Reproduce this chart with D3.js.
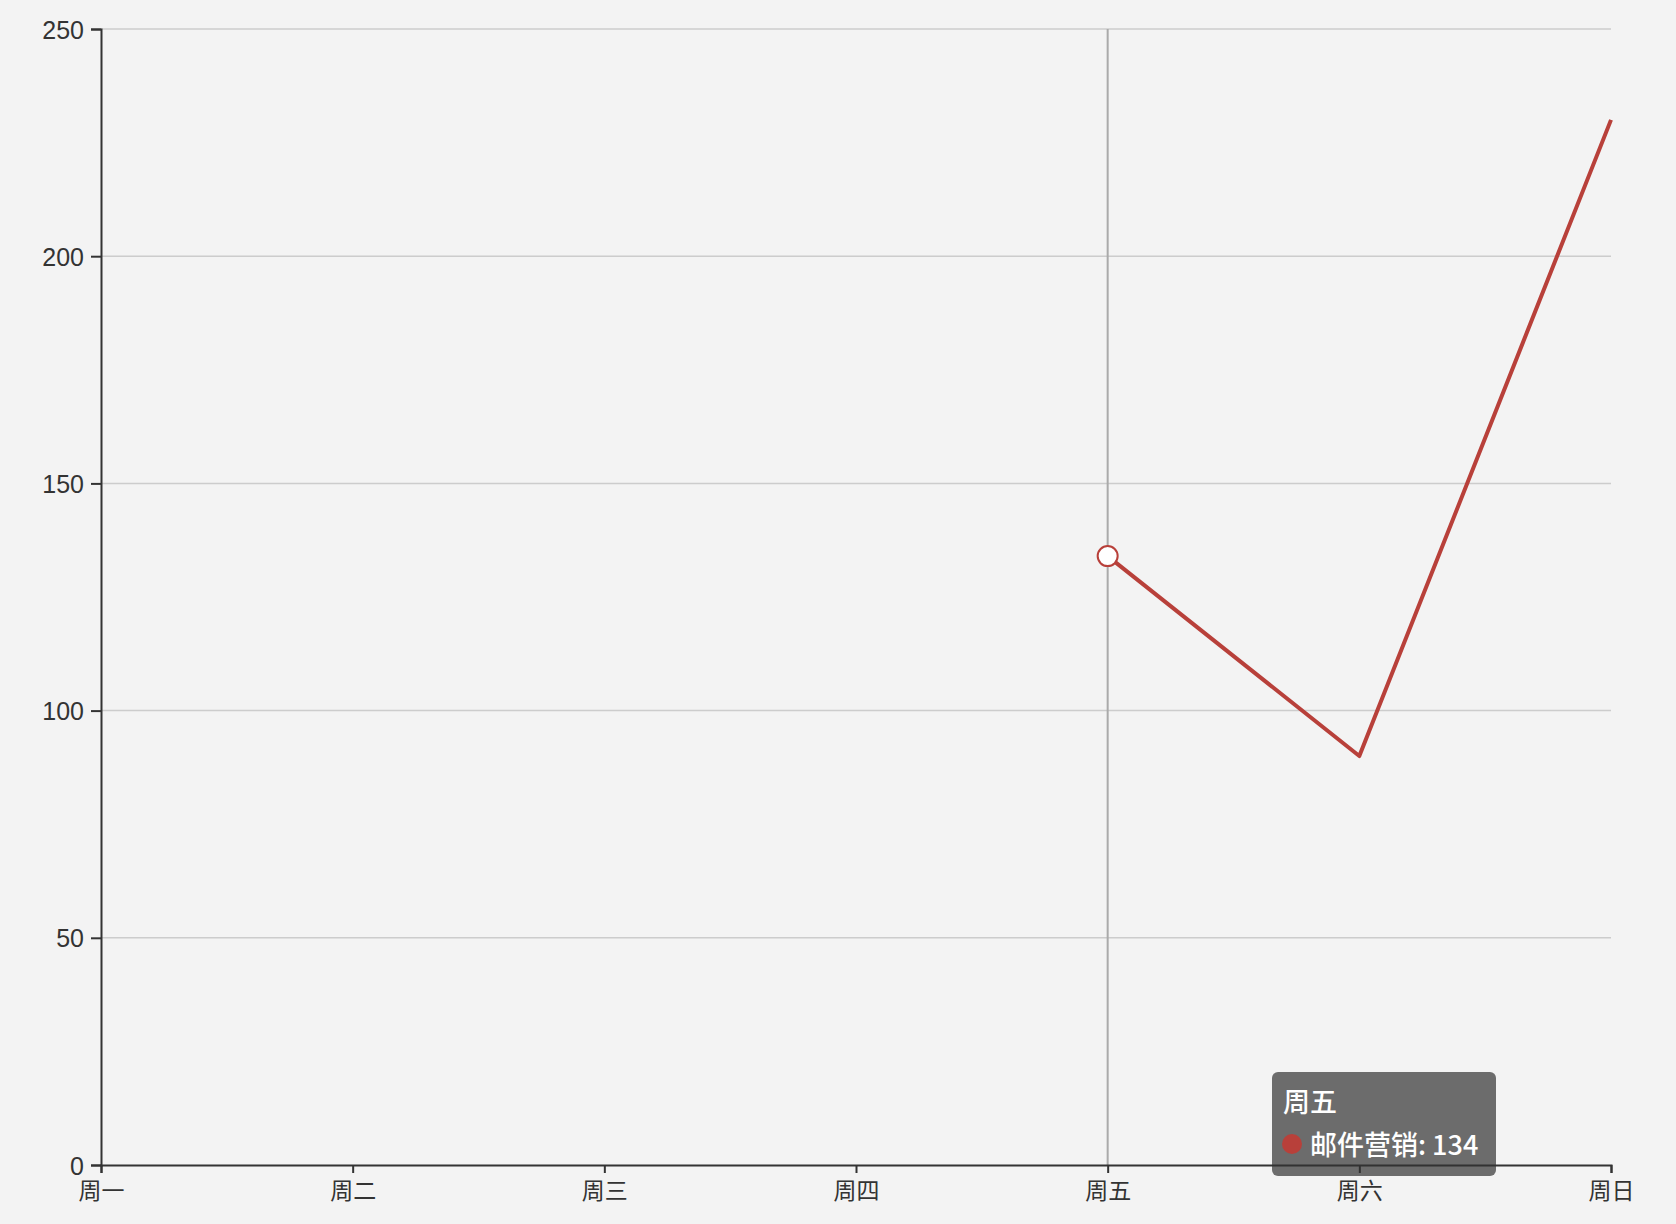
<!DOCTYPE html>
<html>
<head>
<meta charset="utf-8">
<script src="https://cdn.jsdelivr.net/npm/d3@7/dist/d3.min.js"></script>
<style>
  html, body { margin: 0; padding: 0; background: #f3f3f3; }
  svg { display: block; }
  text { font-family: "Liberation Sans", "Noto Sans CJK SC", sans-serif; }
  .tip text { font-family: "Noto Sans CJK SC", sans-serif; }
</style>
</head>
<body>
<div id="chart"></div>
<script>
// data (Mon-Thu not drawn)
var days = ['周一', '周二', '周三', '周四', '周五', '周六', '周日'];
var emailValues = [null, null, null, null, 134, 90, 230];
var yTicks = [0, 50, 100, 150, 200, 250];
var seriesName = '邮件营销';
var activeIndex = 4;

var width = 1676,
    height = 1224,
    margin = { top: 29, right: 65, bottom: 59, left: 101 },
    lineColor = '#b8403a';

var svg = d3.select('#chart')
  .append('svg')
    .attr('width', width)
    .attr('height', height);

var x = d3.scalePoint()
  .domain(days)
  .range([margin.left, width - margin.right]);

var y = d3.scaleLinear()
  .domain([0, 250])
  .range([height - margin.bottom, margin.top]);

// horizontal grid
svg.append('g')
  .selectAll('line')
  .data(yTicks.filter(function (d) { return d > 0; }))
  .enter().append('line')
    .attr('x1', margin.left)
    .attr('x2', width - margin.right)
    .attr('y1', function (d) { return y(d); })
    .attr('y2', function (d) { return y(d); })
    .style('stroke', '#cccccc')
    .style('stroke-width', 1.5);

// crosshair on the hovered category
svg.append('line')
  .attr('x1', x(days[activeIndex]))
  .attr('x2', x(days[activeIndex]))
  .attr('y1', y(250))
  .attr('y2', y(0))
  .style('stroke', '#aaaaaa')
  .style('stroke-width', 2);

var yAxis = svg.append('g')
  .attr('transform', 'translate(' + margin.left + ',0)')
  .call(d3.axisLeft(y).tickValues(yTicks).tickSize(10).tickPadding(7));

var xAxis = svg.append('g')
  .attr('transform', 'translate(0,' + y(0) + ')')
  .call(d3.axisBottom(x).tickSize(8).tickPadding(10));

[yAxis, xAxis].forEach(function (ax) {
  ax.select('.domain').style('stroke', '#333').style('stroke-width', 2);
  ax.selectAll('.tick line').style('stroke', '#333').style('stroke-width', 2);
  ax.selectAll('.tick text')
    .style('fill', '#333')
    .style('font-size', '23px');
});
yAxis.selectAll('.tick text')
  .attr('dy', '0.36em')
  .style('font-size', '25px');

var line = d3.line()
  .defined(function (d) { return d != null; })
  .x(function (d, i) { return x(days[i]); })
  .y(function (d) { return y(d); });

svg.append('path')
  .datum(emailValues)
  .attr('d', line)
  .style('fill', 'none')
  .style('stroke', lineColor)
  .style('stroke-width', 4)
  .style('stroke-linejoin', 'round');

svg.append('circle')
  .attr('cx', x(days[activeIndex]))
  .attr('cy', y(emailValues[activeIndex]))
  .attr('r', 10)
  .style('fill', '#ffffff')
  .style('stroke', lineColor)
  .style('stroke-width', 2);

// tooltip
var tip = svg.append('g')
  .classed('tip', true)
  .attr('transform', 'translate(1272,1072)');

tip.append('rect')
  .attr('width', 224)
  .attr('height', 104)
  .attr('rx', 6)
  .style('fill', 'rgba(50,50,50,0.7)');

tip.append('text')
  .attr('x', 11)
  .attr('y', 40)
  .style('fill', '#fff')
  .style('font-size', '27px')
  .style('font-weight', 500)
  .text(days[activeIndex]);

tip.append('circle')
  .attr('cx', 20)
  .attr('cy', 72)
  .attr('r', 10)
  .style('fill', lineColor);

tip.append('text')
  .attr('x', 38)
  .attr('y', 83)
  .style('fill', '#fff')
  .style('font-size', '27px')
  .style('font-weight', 500)
  .text(seriesName + ': ' + emailValues[activeIndex]);
</script>
</body>
</html>
